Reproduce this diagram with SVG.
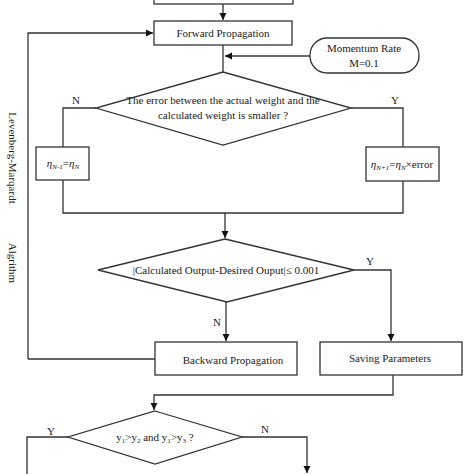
<svg xmlns="http://www.w3.org/2000/svg" width="474" height="474" viewBox="0 0 474 474">
<defs>
<marker id="ah" markerWidth="8" markerHeight="8" refX="7" refY="4" orient="auto" markerUnits="userSpaceOnUse">
<path d="M0,0.5 L7,4 L0,7.5 Z" fill="#111"/>
</marker>
<style>
.box{fill:#fff;stroke:#333;stroke-width:1.3}
.ln{fill:none;stroke:#333;stroke-width:1.3}
.t{font-family:"Liberation Serif","Times New Roman",serif;font-size:11px;fill:#222;text-anchor:middle}
.lb{font-family:"Liberation Serif","Times New Roman",serif;font-size:11px;fill:#222;text-anchor:middle}
.i{font-style:italic}
.sub{font-size:7px}
</style>
</defs>
<rect width="474" height="474" fill="#fff"/>
<g id="connectors">
<path class="ln" d="M223,4 V20" marker-end="url(#ah)"/>
<path class="ln" d="M28,359 V33 H153" marker-end="url(#ah)"/>
<path class="ln" d="M223,45 V72"/>
<path class="ln" d="M310,56 H225" marker-end="url(#ah)"/>
<path class="ln" d="M96,108 H63 V147"/>
<path class="ln" d="M351,108 H403 V147"/>
<path class="ln" d="M63,180 V213 H403 V181"/>
<path class="ln" d="M225,213 V238" marker-end="url(#ah)"/>
<path class="ln" d="M354,270 H391 V341" marker-end="url(#ah)"/>
<path class="ln" d="M226,302 V341" marker-end="url(#ah)"/>
<path class="ln" d="M155,359 H28"/>
<path class="ln" d="M393,375 V395 H154 V410" marker-end="url(#ah)"/>
<path class="ln" d="M68,437 H27 V474"/>
<path class="ln" d="M242,437 H307 V473" marker-end="url(#ah)"/>
</g>
<g id="labels">
<text class="lb" x="76" y="104">N</text>
<text class="lb" x="395" y="104">Y</text>
<text class="lb" x="370" y="265">Y</text>
<text class="lb" x="217" y="326">N</text>
<text class="lb" x="51" y="435">Y</text>
<text class="lb" x="265" y="433">N</text>
<text class="t" transform="translate(9,158) rotate(90)">Levenberg-Marqardt</text>
<text class="t" transform="translate(9,263) rotate(90)">Algrithm</text>
</g>
<g id="start">
<rect class="box" x="154" y="-20" width="139" height="24"/>
</g>
<g id="forward">
<rect class="box" x="154" y="21" width="138" height="24"/>
<text class="t" x="223" y="37">Forward Propagation</text>
</g>
<g id="momentum">
<rect class="box" x="310" y="38" width="109" height="35" rx="17" ry="17"/>
<text class="t" x="364" y="52">Momentum Rate</text>
<text class="t" x="364" y="67">M=0.1</text>
</g>
<g id="decision1">
<polygon class="box" points="223,72 351,108 223,145 96,108"/>
<text class="t" x="223" y="104">The error between the actual weight and the</text>
<text class="t" x="223" y="119">calculated weight is smaller ?</text>
</g>
<g id="keep">
<rect class="box" x="36" y="147" width="53" height="33"/>
<text class="t" x="63" y="167"><tspan class="i">η</tspan><tspan class="i sub" dy="2">N-1</tspan><tspan dy="-2">=</tspan><tspan class="i">η</tspan><tspan class="i sub" dy="2">N</tspan></text>
</g>
<g id="update">
<rect class="box" x="366" y="147" width="73" height="34"/>
<text class="t" x="402" y="168"><tspan class="i">η</tspan><tspan class="i sub" dy="2">N+1</tspan><tspan dy="-2">=</tspan><tspan class="i">η</tspan><tspan class="i sub" dy="2">N</tspan><tspan dy="-2">×error</tspan></text>
</g>
<g id="decision2">
<polygon class="box" points="225,239 354,270 227,302 98,270"/>
<text class="t" x="226" y="274">|Calculated Output-Desired Ouput|≤ 0.001</text>
</g>
<g id="backward">
<rect class="box" x="155" y="342" width="142" height="33"/>
<text class="t" x="233" y="364">Backward Propagation</text>
</g>
<g id="saving">
<rect class="box" x="320" y="342" width="142" height="33"/>
<text class="t" x="390" y="362">Saving Parameters</text>
</g>
<g id="decision3">
<polygon class="box" points="155,411 242,437 155,464 68,437"/>
<text class="t" x="155" y="441">y<tspan class="sub" dy="2">1</tspan><tspan dy="-2">&gt;y</tspan><tspan class="sub" dy="2">2</tspan><tspan dy="-2"> and y</tspan><tspan class="sub" dy="2">1</tspan><tspan dy="-2">&gt;y</tspan><tspan class="sub" dy="2">3</tspan><tspan dy="-2"> ?</tspan></text>
</g>
</svg>
